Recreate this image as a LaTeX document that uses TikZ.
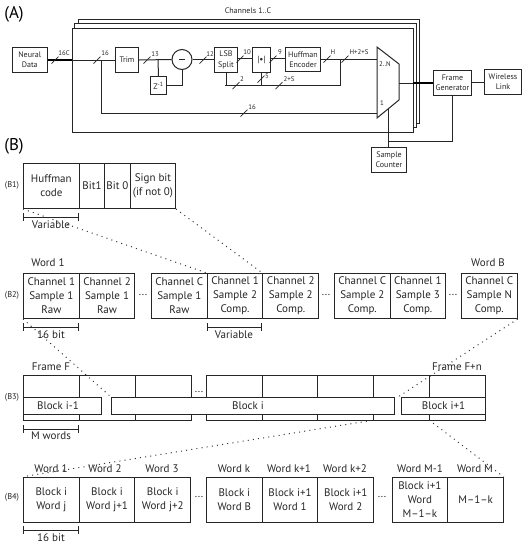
\documentclass[tikz,border=0pt]{standalone}
\usepackage{fontspec}
\setmainfont{PT Sans}
\begin{document}
\begin{tikzpicture}[x=1pt,y=-1pt,line width=1pt,color=black!85,
  txt/.style={text=black!85,inner sep=0pt,align=center,font=\fontsize{11}{14}\selectfont,text depth=0pt},
  small/.style={text=black!85,inner sep=0pt,align=center,font=\fontsize{8}{10}\selectfont},
  tiny/.style={text=black!85,inner sep=0pt,font=\fontsize{6.8}{7}\selectfont},
  head/.style={text=black,inner sep=0pt,font=\fontsize{17}{18}\selectfont},
  rowlab/.style={text=black!85,inner sep=0pt,font=\fontsize{8.4}{9}\selectfont},
  abox/.style={draw,fill=white,inner sep=0pt,anchor=north west,align=center,text=black!85,font=\fontsize{8}{10.3}\selectfont},
  cell/.style={draw,fill=white,inner sep=0pt,anchor=north west,align=center,text=black!85,minimum width=55.7pt,minimum height=45pt,font=\fontsize{11}{14}\selectfont},
  bar/.style={draw,fill=white,inner sep=0pt,anchor=north west,minimum height=17pt,text=black!85,font=\fontsize{11}{14}\selectfont},
  dots/.style={draw=black!80,line width=1pt,dash pattern=on 1pt off 4.2pt},
  thick bus/.style={line width=2.6pt,draw=black},
  dim/.style={line width=0.9pt,|-|}]
\useasboundingbox (0,0) rectangle (526,550);
% stacked channel frames
\node[draw,fill=white,inner sep=0pt,anchor=north west,minimum width=341pt,minimum height=104pt] (s3) at (78,19) {};
\node[draw,fill=white,inner sep=0pt,anchor=north west,minimum width=342pt,minimum height=104pt] (s2) at (74,23) {};
\node[draw,fill=white,inner sep=0pt,anchor=north west,minimum width=341pt,minimum height=104pt] (s1) at (72,27.5) {};
\node[small] (chlabel) at (248,11) {Channels 1..C};
\node[head] (A) at (14,14) {(A)};
\node[head] (B) at (14,146) {(B)};
% section A blocks
\node[abox,minimum width=34.5pt,minimum height=25pt] (neural) at (12,47) {Neural\\Data};
\node[abox,minimum width=23pt,minimum height=25pt] (trim) at (115,47) {Trim};
\node[abox,minimum width=16pt,minimum height=18pt] (z) at (150,76) {Z\textsuperscript{-1}};
\node[draw,circle,fill=white,inner sep=0pt,minimum size=20pt,text=black!85] (sub) at (182,59.5) {\rule[-0.5pt]{6.5pt}{1pt}};
\node[abox,minimum width=23pt,minimum height=25pt] (lsb) at (214,47) {LSB\\Split};
\node[abox,minimum width=18pt,minimum height=25pt,font=\fontsize{9}{10}\selectfont] (abs) at (252,47) {|•|};
\node[abox,minimum width=35pt,minimum height=24pt] (huff) at (285,47) {Huffman\\Encoder};
\node[abox,minimum width=38pt,minimum height=25pt] (frame) at (433,70) {Frame\\Generator};
\node[abox,minimum width=37pt,minimum height=25pt] (wireless) at (484,69) {Wireless\\Link};
\node[abox,minimum width=35pt,minimum height=25pt] (counter) at (371,147) {Sample\\Counter};
% mux
\coordinate (m1) at (377,47);\coordinate (m2) at (399,64);\coordinate (m3) at (399,100);\coordinate (m4) at (377,118);
\draw[fill=white] (m1) -- (m2) -- (m3) -- (m4) -- cycle;
\coordinate (muxin) at (377,59);\coordinate (muxone) at (377,113);\coordinate (muxbot) at (388,109);\coordinate (muxout) at (399,83);
\coordinate (j16) at (101,60);\coordinate (j13) at (158,60);\coordinate (j340) at (340,59);
\coordinate (edge) at (72,60);\coordinate (edgeout) at (413,83);
% connectors
\draw[thick bus] (neural.east |- edge) -- (edge);
\draw (edge) -- (trim.west |- edge);
\draw (trim.east |- j13) -- (sub.west);
\draw (j13) -- (z.north);
\draw (z.east) -| (sub.south);
\draw (sub.east) -- (lsb.west |- sub.east);
\draw (lsb.east |- 0,58.5) -- (abs.west |- 0,58.5);
\draw (abs.east |- 0,58.5) -- (huff.west |- 0,58.5);
\draw (huff.east |- j340) -- (muxin);
\draw (lsb.south) |- (225,85.5) -- (340,85.5) -- (j340);
\draw (abs.south) -- (abs.south |- 0,85.5);
\draw (j16) |- (muxone);
\draw (muxout) -- (edgeout);
\draw[thick bus] (edgeout) -- (frame.west |- edgeout);
\draw (frame.east |- wireless.west) -- (wireless.west);
\draw (muxbot) -- (muxbot |- counter.north);
\draw (frame.south) |- (388,141);
% bus ticks
\foreach \x/\y in {55/60,97/60,147/60,203/60,240/59,273/59,327/59,345/59,261/79,236/85.5,279/85.5,244/113}
  \draw[line width=0.7pt] (\x-3.5,\y+3.5) -- (\x+3.5,\y-3.5);
\node[tiny] (t1) at (64,53) {16C};
\node[tiny] (t2) at (105,53.5) {16};
\node[tiny] (t3) at (155,54) {13};
\node[tiny] (t4) at (210,54) {12};
\node[tiny] (t5) at (247,52) {10};
\node[tiny] (t6) at (280,52.5) {9};
\node[tiny] (t7) at (333,52.5) {H};
\node[tiny] (t8) at (359,52.5) {H+2+S};
\node[tiny] (t9) at (267,76.5) {5};
\node[tiny] (t10) at (242,79) {2};
\node[tiny] (t11) at (289,79) {2+S};
\node[tiny] (t12) at (252,107) {16};
\node[tiny] (t13) at (385,64.5) {2..N};
\node[tiny] (t14) at (382,103) {1};
% B1
\node[cell] (h) at (23,163) {Huffman\\code};
\node[cell,minimum width=25.5pt] (b1) at (78.7,163) {Bit1};
\node[cell,minimum width=25.5pt] (b0) at (104.2,163) {Bit 0};
\node[cell,minimum width=45pt] (sb) at (130,163) {Sign bit\\(if not 0)};
\node[rowlab] (rb1) at (12,185) {(B1)};
\draw[dim] (23,217) -- (79,217);
\node[txt] (v1) at (51,224.5) {Variable};
% B2
\node[cell] (c1) at (23,273) {Channel 1\\Sample 1\\Raw};
\node[cell] (c2) at (78.7,273) {Channel 2\\Sample 1\\Raw};
\node[cell] (c3) at (151,273) {Channel C\\Sample 1\\Raw};
\node[cell] (c4) at (206.7,273) {Channel 1\\Sample 2\\Comp.};
\node[cell] (c5) at (262.4,273) {Channel 2\\Sample 2\\Comp.};
\node[cell] (c6) at (334,273) {Channel C\\Sample 2\\Comp.};
\node[cell] (c7) at (389.5,273) {Channel 1\\Sample 3\\Comp.};
\node[cell] (c8) at (461,273) {Channel C\\Sample N\\Comp.};
\node[rowlab] (rb2) at (12,295) {(B2)};
\node[txt] (w1) at (48,263) {Word 1};
\node[txt] (wb) at (488,263) {Word B};
\node[txt] (e1) at (143,295) {...};
\node[txt] (e2) at (326,295) {...};
\node[txt] (e3) at (453,295) {...};
\draw[dim] (23,327) -- (79,327);
\node[txt] (l16a) at (51,335) {16 bit};
\draw[dim] (207,327) -- (262,327);
\node[txt] (v2) at (234,335) {Variable};
% B3
\node[draw,inner sep=0pt,anchor=north west,minimum width=168pt,minimum height=45pt] (f1) at (23,375) {};
\node[draw,inner sep=0pt,anchor=north west,minimum width=279pt,minimum height=45pt] (f2) at (206,375) {};
\foreach \x in {79,135,262,317.7,373,429}
  \draw (\x,375) -- (\x,420);
\fill[white] (102,398) rectangle (110,419);
\fill[white] (395,398) rectangle (400,419);
\node[bar,minimum width=78pt,anchor=north west] (bim) at (23,397) {\hspace*{-9pt}Block i-1};
\node[bar,minimum width=283pt] (bi) at (111,397) {\hspace*{-10pt}Block i};
\node[bar,minimum width=84pt] (bip) at (401,397) {Block i+1};
\node[rowlab] (rb3) at (12,397) {(B3)};
\node[txt] (ff) at (51,367) {Frame F};
\node[txt] (ffn) at (457,367) {Frame F+n};
\node[txt] (e4) at (199,392) {...};
\draw[dim] (23,429) -- (79,429);
\node[txt] (mw) at (51,436) {M words};
% B4
\node[cell] (d1) at (23,477) {Block i\\Word j};
\node[cell] (d2) at (78.7,477) {Block i\\Word j+1};
\node[cell] (d3) at (134.4,477) {Block i\\Word j+2};
\node[cell] (d4) at (206,477) {Block i\\Word B};
\node[cell] (d5) at (261.7,477) {Block i+1\\Word 1};
\node[cell] (d6) at (317.4,477) {Block i+1\\Word 2};
\node[cell] (d7) at (391.5,477) {Block i+1\\Word\\M--1--k};
\node[cell] (d8) at (447.2,477) {M--1--k};
\node[rowlab] (rb4) at (12,497) {(B4)};
\foreach \n/\x/\t in {a/51/Word 1,b/105/Word 2,c/162/Word 3,d/234/Word k,e/289/Word k+1,f/345/Word k+2,g/420/Word M-1,h/475/Word M}
  \node[txt] (wl\n) at (\x,469) {\t};
\node[txt] (e5) at (199,497) {...};
\node[txt] (e6) at (382,497) {...};
\draw[dim] (23,530) -- (79,530);
\node[txt] (l16b) at (51,538) {16 bit};
% zoom lines
\draw[dots] (h.south west) -- (c4.north west);
\draw[dots] (sb.south east) -- (c5.north west);
\draw[dots] (c1.south west) -- (bi.north west);
\draw[dots] (c8.south east) -- (398,397);
\draw[dots] (d1.north west) ++(4,-1) -- (f2.south west -| 368,420);
\draw[dots] (429,420) -- (d8.north east);
\end{tikzpicture}
\end{document}
